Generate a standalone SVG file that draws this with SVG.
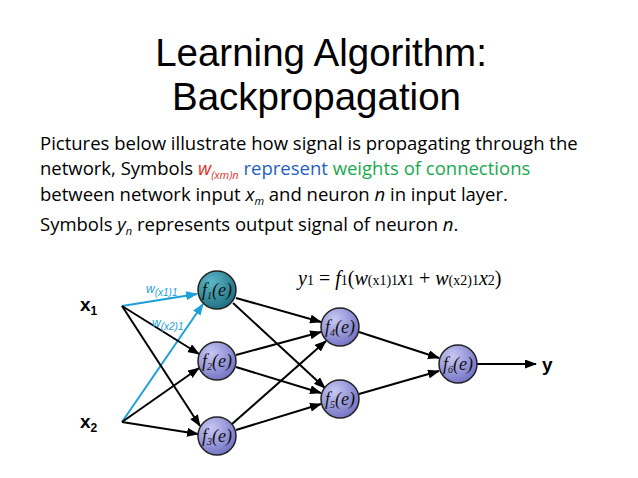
<svg xmlns="http://www.w3.org/2000/svg" width="638" height="478" viewBox="0 0 638 478">
<style>
.t{font-family:"Liberation Sans",Arial,sans-serif;font-size:38.5px;fill:#000}
.b{font-family:"Open Sans","Liberation Sans",sans-serif;font-size:18.5px;fill:#000}
.n{fill:url(#g);stroke:#222;stroke-width:1.5}
.f{font-family:"Liberation Serif",serif;font-style:italic;font-size:18px;text-anchor:middle;fill:#111}
.c{stroke:#000;stroke-width:2;fill:none;marker-end:url(#a)}
.cb{stroke:#1ba0d8;stroke-width:2;fill:none;marker-end:url(#ab)}
.x{font-family:"Liberation Sans",sans-serif;font-weight:bold;font-size:19px}
.w{font-family:"Liberation Sans",sans-serif;font-style:italic;font-size:12px;fill:#1ba0d8}
.m{font-family:"Liberation Serif",serif;font-size:20px}
</style>
<defs>
<radialGradient id="g" cx="0.35" cy="0.3" r="0.75"><stop offset="0" stop-color="#c8c8f4"/><stop offset="1" stop-color="#7272c4"/></radialGradient>
<radialGradient id="g1" cx="0.35" cy="0.3" r="0.75"><stop offset="0" stop-color="#5cb8c8"/><stop offset="1" stop-color="#1e6e80"/></radialGradient>
<marker id="a" markerWidth="12" markerHeight="9" refX="11" refY="4.5" orient="auto" markerUnits="userSpaceOnUse"><path d="M0,0L12,4.5L0,9z" fill="#000"/></marker>
<marker id="ab" markerWidth="12" markerHeight="9" refX="11" refY="4.5" orient="auto" markerUnits="userSpaceOnUse"><path d="M0,0L12,4.5L0,9z" fill="#1ba0d8"/></marker>
</defs>
<text class="t" x="321" y="66" text-anchor="middle">Learning Algorithm:</text>
<text class="t" x="172" y="110">Backpropagation</text>
<text class="b" x="40" y="150">Pictures below illustrate how signal is propagating through the</text>
<text class="b" x="40" y="175">network, Symbols <tspan fill="#e0301e" font-style="italic">w</tspan><tspan fill="#e0301e" font-style="italic" font-size="11" dy="4">(xm)n</tspan><tspan dy="-4" fill="#1f5fbf"> represent </tspan><tspan fill="#1aa850">weights of connections</tspan></text>
<text class="b" x="40" y="201">between network input <tspan font-style="italic">x</tspan><tspan font-style="italic" font-size="11" dy="4">m</tspan><tspan dy="-4"> and neuron </tspan><tspan font-style="italic">n</tspan> in input layer.</text>
<text class="b" x="40" y="231">Symbols <tspan font-style="italic">y</tspan><tspan font-style="italic" font-size="11" dy="4">n</tspan><tspan dy="-4"> represents output signal of neuron </tspan><tspan font-style="italic">n</tspan>.</text>
<text class="m" x="298" y="285"><tspan font-style="italic">y</tspan><tspan font-size="14">1</tspan> = <tspan font-style="italic">f</tspan><tspan font-size="14">1</tspan>(<tspan font-style="italic">w</tspan><tspan font-size="14">(x1)1</tspan><tspan font-style="italic">x</tspan><tspan font-size="14">1</tspan> + <tspan font-style="italic">w</tspan><tspan font-size="14">(x2)1</tspan><tspan font-style="italic">x</tspan><tspan font-size="14">2</tspan>)</text>
<g id="connectors">
<path class="cb" d="M122,306L197,294"/>
<path class="cb" d="M122,422L203,304"/>
<path class="c" d="M122,306L199,354"/>
<path class="c" d="M122,306L200,426"/>
<path class="c" d="M122,422L199,368"/>
<path class="c" d="M122,422L198,434"/>
<path class="c" d="M236,298L321,322"/>
<path class="c" d="M233,303L325,388"/>
<path class="c" d="M236,355L321,332"/>
<path class="c" d="M236,367L321,393"/>
<path class="c" d="M232,424L326,341"/>
<path class="c" d="M236,430L321,404"/>
<path class="c" d="M359,332L439,358"/>
<path class="c" d="M359,394L439,371"/>
<path class="c" d="M477,364L536,364"/>
</g>
<text class="x" x="80" y="311">x<tspan font-size="12" dy="4">1</tspan></text>
<text class="x" x="80" y="428">x<tspan font-size="12" dy="4">2</tspan></text>
<text class="x" x="542" y="371">y</text>
<text class="w" x="146" y="293">w<tspan font-size="10" dy="3">(x1)1</tspan></text>
<text class="w" x="152" y="327">w<tspan font-size="10" dy="3">(x2)1</tspan></text>
<g id="f1"><circle cx="217" cy="290" r="19" fill="url(#g1)" stroke="#222" stroke-width="1.5"/><text class="f" x="217" y="296">f<tspan font-size="10" dy="3">1</tspan><tspan dy="-3">(e)</tspan></text></g>
<g id="f2"><circle class="n" cx="217" cy="361" r="19"/><text class="f" x="217" y="367">f<tspan font-size="10" dy="3">2</tspan><tspan dy="-3">(e)</tspan></text></g>
<g id="f3"><circle class="n" cx="217" cy="436" r="19"/><text class="f" x="217" y="442">f<tspan font-size="10" dy="3">3</tspan><tspan dy="-3">(e)</tspan></text></g>
<g id="f4"><circle class="n" cx="340" cy="327" r="19"/><text class="f" x="340" y="333">f<tspan font-size="10" dy="3">4</tspan><tspan dy="-3">(e)</tspan></text></g>
<g id="f5"><circle class="n" cx="340" cy="399" r="19"/><text class="f" x="340" y="405">f<tspan font-size="10" dy="3">5</tspan><tspan dy="-3">(e)</tspan></text></g>
<g id="f6"><circle class="n" cx="458" cy="364" r="19"/><text class="f" x="458" y="370">f<tspan font-size="10" dy="3">6</tspan><tspan dy="-3">(e)</tspan></text></g>
</svg>
